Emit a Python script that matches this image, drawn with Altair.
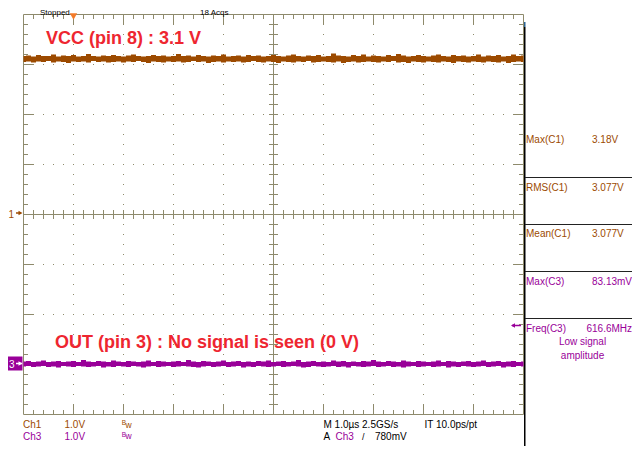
import altair as alt
import pandas as pd

# ---------------- data ----------------
# sample times in µs (1 µs/div, trigger at t=0, screen spans -1..9 µs)
time_us = [round(-1 + 0.1 * i, 1) for i in range(101)]

# CH1 (VCC, pin 8), 1 V/div: upper / lower envelope of the noisy trace (V)
ch1_hi = [3.17,3.18,3.16,3.19,3.17,3.17,3.20,3.16,3.18,3.17,
          3.19,3.16,3.17,3.21,3.17,3.16,3.18,3.17,3.19,3.17,
          3.16,3.18,3.20,3.17,3.16,3.17,3.19,3.17,3.18,3.16,
          3.17,3.21,3.17,3.18,3.16,3.19,3.17,3.16,3.18,3.17,
          3.20,3.16,3.17,3.18,3.16,3.19,3.17,3.18,3.16,3.17,
          3.19,3.17,3.16,3.18,3.20,3.17,3.16,3.18,3.17,3.19,
          3.16,3.17,3.22,3.18,3.17,3.16,3.19,3.17,3.20,3.16,
          3.18,3.17,3.16,3.19,3.17,3.21,3.18,3.16,3.17,3.19,
          3.17,3.16,3.18,3.20,3.17,3.16,3.19,3.17,3.18,3.16,
          3.17,3.20,3.16,3.18,3.17,3.19,3.16,3.17,3.20,3.17,
          3.18]
ch1_lo = [3.05,3.06,3.04,3.06,3.05,3.07,3.04,3.06,3.05,3.03,
          3.06,3.05,3.06,3.04,3.07,3.05,3.06,3.04,3.05,3.06,
          3.04,3.06,3.05,3.07,3.05,3.03,3.06,3.05,3.04,3.06,
          3.05,3.06,3.04,3.05,3.07,3.05,3.06,3.03,3.05,3.06,
          3.04,3.06,3.05,3.06,3.04,3.05,3.07,3.05,3.04,3.06,
          3.05,3.03,3.06,3.05,3.04,3.06,3.05,3.07,3.04,3.05,
          3.06,3.05,3.04,3.06,3.03,3.05,3.06,3.04,3.05,3.06,
          3.05,3.04,3.06,3.05,3.07,3.04,3.05,3.03,3.06,3.05,
          3.04,3.06,3.05,3.04,3.06,3.05,3.03,3.06,3.05,3.04,
          3.06,3.05,3.04,3.06,3.05,3.04,3.06,3.03,3.05,3.06,
          3.05]
# CH3 (OUT, pin 3), 1 V/div, ground 3 div below centre (V)
ch3_hi = [0.06,0.07,0.05,0.06,0.08,0.05,0.06,0.07,0.05,0.06,
          0.07,0.05,0.09,0.06,0.05,0.07,0.06,0.05,0.08,0.06,
          0.05,0.07,0.06,0.05,0.06,0.08,0.05,0.07,0.06,0.05,
          0.06,0.07,0.05,0.09,0.06,0.05,0.07,0.06,0.05,0.06,
          0.08,0.05,0.06,0.07,0.05,0.06,0.05,0.07,0.06,0.08,
          0.05,0.06,0.07,0.05,0.06,0.09,0.05,0.06,0.07,0.05,
          0.06,0.05,0.08,0.06,0.07,0.05,0.06,0.05,0.07,0.06,
          0.09,0.06,0.05,0.07,0.06,0.05,0.08,0.06,0.05,0.07,
          0.06,0.05,0.06,0.08,0.05,0.07,0.06,0.05,0.06,0.07,
          0.05,0.06,0.08,0.05,0.06,0.07,0.05,0.06,0.07,0.05,
          0.06]
ch3_lo = [-0.04,-0.03,-0.05,-0.04,-0.03,-0.05,-0.04,-0.06,-0.03,-0.04,
          -0.05,-0.03,-0.04,-0.05,-0.04,-0.03,-0.06,-0.04,-0.05,-0.03,
          -0.04,-0.05,-0.03,-0.04,-0.06,-0.04,-0.03,-0.05,-0.04,-0.03,
          -0.05,-0.04,-0.03,-0.04,-0.05,-0.06,-0.04,-0.03,-0.05,-0.04,
          -0.03,-0.05,-0.04,-0.03,-0.06,-0.04,-0.05,-0.03,-0.04,-0.05,
          -0.04,-0.03,-0.05,-0.04,-0.03,-0.04,-0.06,-0.05,-0.03,-0.04,
          -0.05,-0.04,-0.03,-0.05,-0.04,-0.06,-0.03,-0.04,-0.05,-0.04,
          -0.03,-0.05,-0.04,-0.03,-0.05,-0.04,-0.06,-0.04,-0.03,-0.05,
          -0.04,-0.03,-0.05,-0.04,-0.03,-0.06,-0.04,-0.05,-0.03,-0.04,
          -0.05,-0.04,-0.03,-0.05,-0.04,-0.03,-0.06,-0.04,-0.05,-0.03,
          -0.04]
CH3_OFFSET = -3  # divisions

meas_labels = ["Max(C1)", "RMS(C1)", "Mean(C1)", "Max(C3)", "Freq(C3)"]
meas_values = ["3.18V", "3.077V", "3.077V", "83.13mV", "616.6MHz"]
meas_chan = ["C1", "C1", "C1", "C3", "C3"]

# ---------------- style ----------------
BROWN = "#9c4a00"
PURPLE = "#990099"
GRID = "#8e8a6c"
RED = "#ee2630"
ORANGE = "#f47b2a"
FONT = "Liberation Sans"

# scale: 50 px per division in both directions
W, H = 624, 438
XMIN, XMAX = -1.31, -1.31 + W / 50
YMAX = 4.13
YMIN = YMAX - H / 50
XS = alt.Scale(domain=[XMIN, XMAX], nice=False, zero=False)
YS = alt.Scale(domain=[YMIN, YMAX], nice=False, zero=False)


def X(f):
    return alt.X(f"{f}:Q", scale=XS, axis=None)


def Y(f):
    return alt.Y(f"{f}:Q", scale=YS, axis=None)


def seg_layer(rows, **mk):
    df = pd.DataFrame(rows, columns=["x", "x2", "y", "y2"])
    return alt.Chart(df).mark_rule(**mk).encode(
        x=X("x"), x2="x2:Q", y=Y("y"), y2="y2:Q")


# ---------------- graticule ----------------
dot_v = [(t, t, -4, 4) for t in [0, 1, 2, 3, 5, 6, 7, 8]]
dot_h = [(-1, 9, v, v) for v in [-3, -2, -1, 1, 2, 3]]
dots = seg_layer(dot_v + dot_h, color=GRID, strokeWidth=1,
                 strokeDash=[1, 9], strokeDashOffset=0.5)

frame = seg_layer([(-1, -1, -4, 4), (9, 9, -4, 4), (-1, 9, 4, 4),
                   (-1, 9, -4, -4), (4, 4, -4, 4), (-1, 9, 0, 0)],
                  color=GRID, strokeWidth=1)

ticks = []
for k in range(1, 50):
    t = -1 + 0.2 * k
    L = 0.2 if k % 5 == 0 else 0.09
    ticks.append((t, t, 4, 4 - L))
    ticks.append((t, t, -4, -4 + L))
    ticks.append((t, t, -0.09, 0.09))
for k in range(1, 40):
    v = -4 + 0.2 * k
    L = 0.2 if k % 5 == 0 else 0.09
    ticks.append((-1, -1 + L, v, v))
    ticks.append((9, 9 - L, v, v))
    ticks.append((3.91, 4.09, v, v))
tick_layer = seg_layer(ticks, color=GRID, strokeWidth=1)

# ---------------- traces ----------------
df1 = pd.DataFrame({"t": time_us, "hi": ch1_hi, "lo": ch1_lo})
df3 = pd.DataFrame({"t": time_us,
                    "hi": [v + CH3_OFFSET for v in ch3_hi],
                    "lo": [v + CH3_OFFSET for v in ch3_lo]})
tr1 = alt.Chart(df1).mark_area(interpolate="step", color=BROWN).encode(
    x=X("t"), y=Y("hi"), y2="lo:Q")
tr3 = alt.Chart(df3).mark_area(interpolate="step", color=PURPLE).encode(
    x=X("t"), y=Y("hi"), y2="lo:Q")

# ---------------- markers ----------------
box3 = alt.Chart(pd.DataFrame({"x": [XMIN], "x2": [-1.02], "y": [-2.84], "y2": [-3.12]})
                 ).mark_rect(color=PURPLE).encode(x=X("x"), x2="x2:Q", y=Y("y"), y2="y2:Q")

arrows = seg_layer([(-1.15, -1.05, 0.03, 0.03)], color=BROWN, strokeWidth=1.5)
arrow3 = seg_layer([(-1.15, -1.03, -2.98, -2.98)], color="white", strokeWidth=1.5)
arrowT = seg_layer([(8.77, 8.95, -2.22, -2.22)], color=PURPLE, strokeWidth=1.5)

pts = pd.DataFrame({
    "x": [0, -1.06, -1.06, 8.79],
    "y": [3.96, 0.03, -2.98, -2.22],
    "shape": ["triangle-down", "triangle-right", "triangle-right", "triangle-left"],
    "c": [ORANGE, BROWN, "white", PURPLE],
    "s": [55, 22, 22, 22],
})
pt_layer = alt.Chart(pts).mark_point(filled=True, opacity=1, strokeWidth=0).encode(
    x=X("x"), y=Y("y"),
    shape=alt.Shape("shape:N", scale=None),
    color=alt.Color("c:N", scale=None),
    size=alt.Size("s:Q", scale=None))

# ---------------- right measurement panel ----------------
panel = seg_layer([(9.025, 9.025, 3.75, YMIN)], color="black", strokeWidth=1.5)
panel_top = seg_layer([(9.025, 9.025, 3.85, 3.75)], color="#2a6496", strokeWidth=1.5)
sep = seg_layer([(9.03, XMAX, v, v) for v in [0.74, -0.2, -1.14, -2.08]],
                color="#222222", strokeWidth=1)

# ---------------- text ----------------
row_y = [1.43, 0.48, -0.45, -1.41, -2.35]
val_x = [10.37, 10.37, 10.37, 10.37, 10.26]
txt = []
for lab, val, ch, yy, vx in zip(meas_labels, meas_values, meas_chan, row_y, val_x):
    col = BROWN if ch == "C1" else PURPLE
    txt.append((lab, 9.05, yy, col, 10))
    txt.append((val, vx, yy, col, 10))
txt += [
    ("1", -1.30, -0.06, BROWN, 10),
    ("3", -1.29, -3.07, "white", 10),
    ("Ch1", -1.01, -4.27, BROWN, 10),
    ("1.0V", -0.18, -4.27, BROWN, 10),
    ("B", 0.964, -4.216, BROWN, 6.5),
    ("w", 1.04, -4.26, BROWN, 8.5),
    ("Ch3", -1.01, -4.50, PURPLE, 10),
    ("1.0V", -0.18, -4.50, PURPLE, 10),
    ("B", 0.964, -4.446, PURPLE, 6.5),
    ("w", 1.04, -4.49, PURPLE, 8.5),
    ("M 1.0µs 2.5GS/s", 5.0, -4.27, "black", 10),
    ("IT 10.0ps/pt", 7.02, -4.27, "black", 10),
    ("A", 5.0, -4.50, "black", 10),
    ("Ch3", 5.24, -4.50, PURPLE, 10),
    ("/", 5.77, -4.50, "black", 9),
    ("780mV", 6.03, -4.50, "black", 10),
]
tdf = pd.DataFrame(txt, columns=["text", "x", "y", "c", "s"])
text_layer = alt.Chart(tdf).mark_text(align="left", baseline="alphabetic", font=FONT).encode(
    x=X("x"), y=Y("y"), text="text:N",
    color=alt.Color("c:N", scale=None), size=alt.Size("s:Q", scale=None))

# status line above the graticule (squeezed into the strip above the frame)
sdf = pd.DataFrame({"text": ["Stopped", "18 Acqs"], "x": [-0.67, 2.53], "y": [4.13, 4.13]})
status = alt.Chart(sdf).mark_text(align="left", baseline="top", font=FONT,
                                  fontSize=8, color="black", dy=0.5).encode(
    x=X("x"), y=Y("y"), text="text:N")

cdf = pd.DataFrame({"text": ["Low signal", "amplitude"], "x": [10.18, 10.18], "y": [-2.61, -2.89]})
center_text = alt.Chart(cdf).mark_text(align="center", baseline="alphabetic", font=FONT,
                                       fontSize=10, color=PURPLE).encode(
    x=X("x"), y=Y("y"), text="text:N")

adf = pd.DataFrame({"text": ["VCC (pin 8) : 3.1 V", "OUT (pin 3) : No signal is seen (0 V)"],
                    "x": [-0.55, -0.37], "y": [3.41, -2.66]})
annot = alt.Chart(adf).mark_text(align="left", baseline="alphabetic", font=FONT,
                                 fontSize=18, fontWeight="bold", color=RED).encode(
    x=X("x"), y=Y("y"), text="text:N")

chart = alt.layer(
    dots, frame, tick_layer, tr1, tr3, box3, arrows, arrow3, arrowT, pt_layer,
    panel, panel_top, sep, text_layer, status, center_text, annot
).properties(
    width=W, height=H, padding=0,
    autosize=alt.AutoSizeParams(type="none"), background="white"
).configure_view(stroke=None)

chart.save("out.html", embed_options={"renderer": "svg", "actions": False})
